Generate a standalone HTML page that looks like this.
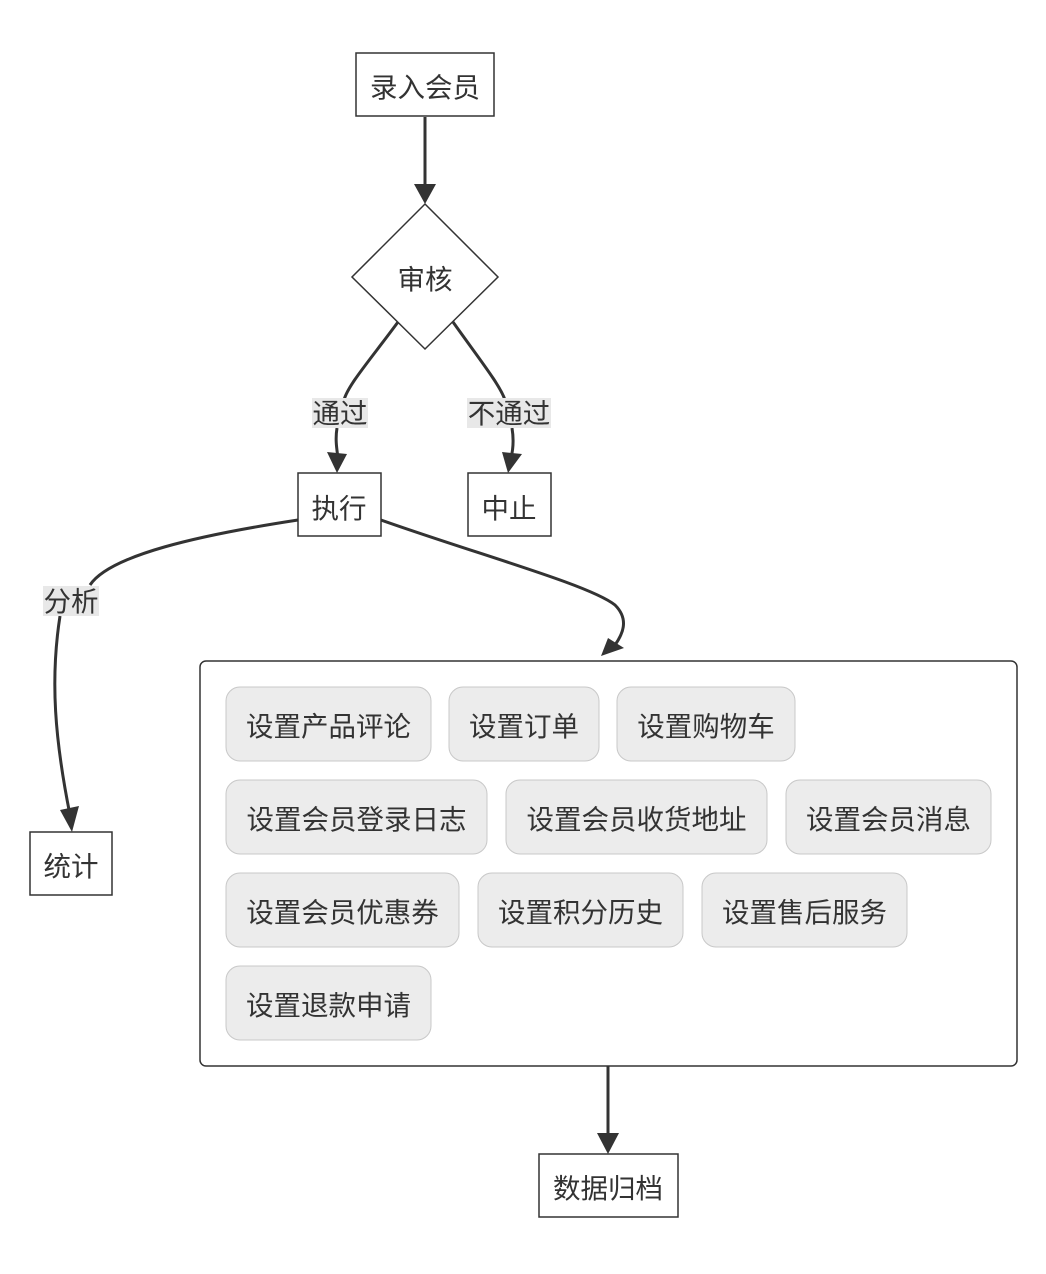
<!DOCTYPE html>
<html><head><meta charset="utf-8"><style>
html,body{margin:0;padding:0;background:#fff;}
svg{display:block;}
text{font-family:"Liberation Sans","Noto Sans CJK SC",sans-serif;font-size:27.5px;fill:#333;}
</style></head><body>
<svg width="1046" height="1274" viewBox="0 0 1046 1274" xmlns="http://www.w3.org/2000/svg">
<g fill="none" stroke="#333" stroke-width="3">
<path d="M425,117 L425,188"/>
<path d="M398,322 C370,360 348,385 344,400 M337,428 C335,440 337,450 338,458"/>
<path d="M453,322 C480,360 500,385 505,400 M512,428 C514,440 513,450 511,458"/>
<path d="M298,520 C200,535 110,555 90,585 M60,616 C50,680 55,740 70,815"/>
<path d="M381,520 C480,555 590,585 615,605 C630,620 622,635 615,645"/>
<path d="M608,1066 L608,1138"/>
</g>
<g fill="#333">
<polygon points="414,184 436,184 425,204"/>
<polygon points="327,452 347,454 337,473"/>
<polygon points="502,452 522,454 508,473"/>
<polygon points="60,810 79,806 72,832"/>
<polygon points="601,656 608,638 624,648"/>
<polygon points="597,1133 619,1133 608,1154"/>
</g>
<g fill="#fff" stroke="#333" stroke-width="1.5">
<rect x="356" y="53" width="138" height="63"/>
<polygon points="425,204 498,277 425,349 352,277"/>
<rect x="298" y="473" width="83" height="63"/>
<rect x="468" y="473" width="83" height="63"/>
<rect x="30" y="832" width="82" height="63"/>
<rect x="539" y="1154" width="139" height="63"/>
<rect x="200" y="661" width="817" height="405" rx="6"/>
</g>
<g fill="#e8e8e8">
<rect x="312" y="398" width="56" height="30"/>
<rect x="467" y="398" width="84" height="30"/>
<rect x="43" y="586" width="56" height="30"/>
</g>
<text x="425" y="97" text-anchor="middle">录入会员</text>
<text x="425" y="289" text-anchor="middle">审核</text>
<text x="340" y="423" text-anchor="middle">通过</text>
<text x="509" y="423" text-anchor="middle">不通过</text>
<text x="339" y="518" text-anchor="middle">执行</text>
<text x="509" y="518" text-anchor="middle">中止</text>
<text x="71" y="611" text-anchor="middle">分析</text>
<text x="71" y="876" text-anchor="middle">统计</text>
<text x="608" y="1198" text-anchor="middle">数据归档</text>
<g fill="#ececec" stroke="#c8c8c8" stroke-width="1">
<rect x="226" y="687" width="205" height="74" rx="14"/>
<rect x="449" y="687" width="150" height="74" rx="14"/>
<rect x="617" y="687" width="178" height="74" rx="14"/>
<rect x="226" y="780" width="261" height="74" rx="14"/>
<rect x="506" y="780" width="261" height="74" rx="14"/>
<rect x="786" y="780" width="205" height="74" rx="14"/>
<rect x="226" y="873" width="233" height="74" rx="14"/>
<rect x="478" y="873" width="205" height="74" rx="14"/>
<rect x="702" y="873" width="205" height="74" rx="14"/>
<rect x="226" y="966" width="205" height="74" rx="14"/>
</g>
<g text-anchor="middle">
<text x="328.5" y="736">设置产品评论</text>
<text x="524" y="736">设置订单</text>
<text x="706" y="736">设置购物车</text>
<text x="356.5" y="829">设置会员登录日志</text>
<text x="636.5" y="829">设置会员收货地址</text>
<text x="888.5" y="829">设置会员消息</text>
<text x="342.5" y="922">设置会员优惠券</text>
<text x="580.5" y="922">设置积分历史</text>
<text x="804.5" y="922">设置售后服务</text>
<text x="328.5" y="1015">设置退款申请</text>
</g>
</svg>
</body></html>
